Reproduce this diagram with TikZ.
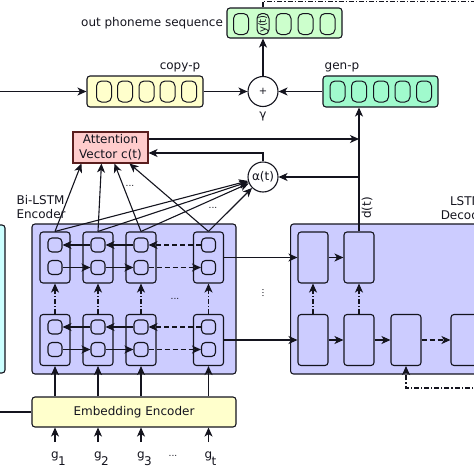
\documentclass[tikz,border=0pt]{standalone}
\usepackage{fontspec}
\setmainfont{DejaVu Sans}
\usetikzlibrary{arrows.meta,calc}
\definecolor{lav}{RGB}{204,204,255}
\definecolor{yel}{RGB}{255,255,204}
\definecolor{lgreen}{RGB}{204,255,204}
\definecolor{mint}{RGB}{160,250,205}
\definecolor{pinkc}{RGB}{255,204,204}
\definecolor{cyanc}{RGB}{204,255,255}
\definecolor{ink}{RGB}{20,20,30}
\definecolor{attborder}{RGB}{90,30,30}
\begin{document}
\begin{tikzpicture}[x=1pt,y=-1pt,color=ink,line width=1.1pt,
  font=\fontsize{12}{14}\selectfont,
  arr/.style={-{Stealth[length=9pt,width=8pt,inset=2.5pt]}},
  dashedl/.style={dash pattern=on 5pt off 3pt},
  dashdot/.style={dash pattern=on 5pt off 2pt on 1.2pt off 2pt},
  box/.style={draw=ink,line width=1.1pt,rounded corners=3pt,inner sep=0pt},
  cellbox/.style={box,fill=lav,minimum width=30pt,minimum height=51pt},
  smallbox/.style={box,fill=lav,minimum width=14pt,minimum height=14pt,rounded corners=4pt},
  seqcell/.style={draw=ink,line width=1pt,rounded corners=5pt,inner sep=0pt,minimum width=15pt,minimum height=21pt},
  circ/.style={draw=ink,line width=1.1pt,circle,fill=white,minimum size=30pt,inner sep=0pt},
  dots/.style={font=\fontsize{9}{10}\selectfont}]
\useasboundingbox (0,0) rectangle (474,474);
\clip (0,0) rectangle (474,474);

% ---------- big boxes ----------
\node[box,fill=cyanc,minimum width=20pt,minimum height=148pt] (cyanbox) at (-5,299) {};
\node[box,fill=lav,minimum width=204pt,minimum height=150pt] (enc) at (134,299) {};
\node[box,fill=lav,minimum width=200pt,minimum height=150pt,anchor=west] (dec) at (290,299) {};

% ---------- encoder cells ----------
\foreach \i/\x in {1/55,2/98,3/141,4/208.5} {
  \node[cellbox] (et\i) at (\x,257.5) {};
  \node[smallbox] (eta\i) at (\x,245) {};
  \node[smallbox] (etb\i) at (\x,267.5) {};
  \node[cellbox] (eb\i) at (\x,340) {};
  \node[smallbox] (eba\i) at (\x,327) {};
  \node[smallbox] (ebb\i) at (\x,349.5) {};
}
\foreach \r in {t,b} {
  \foreach \i/\j in {1/2,2/3} {
    \draw[arr] (e\r a\j.west) -- (e\r a\i.east);
    \draw[arr] (e\r b\i.east) -- (e\r b\j.west);
  }
  \draw[arr,dashedl] (e\r a4.west) -- (e\r a3.east);
  \draw[arr,dashedl] (e\r b3.east) -- (e\r b4.west);
}
\foreach \i in {1,...,4} \draw[arr,dashdot] (eb\i.north) -- (et\i.south);
\node[dots] (encdots) at (175,299) {...};

% ---------- embedding encoder ----------
\node[box,fill=yel,minimum width=204pt,minimum height=30pt] (emb) at (134,412) {Embedding Encoder};
\coordinate (embl) at (0,412);
\draw (embl) -- (emb.west);
\foreach \i in {1,...,4} \draw[arr] (emb.north -| eb\i) -- (eb\i.south);
\foreach \i/\x/\s in {1/55/1,2/98/2,3/141/3,4/208.5/t} {
  \coordinate (gt\i) at (\x,442);
  \draw[arr] (gt\i) -- (emb.south -| gt\i);
  \node[anchor=west,inner sep=0pt] (g\i) at (\x-4.5,459) {g\kern-0.5pt\raisebox{-7pt}{\s}};
}
\node[dots] (gdots) at (173,456) {...};

% ---------- decoder cells ----------
\node[cellbox] (dt1) at (313,257.5) {};
\node[cellbox] (dt2) at (359,257.5) {};
\node[cellbox] (db1) at (313,340) {};
\node[cellbox] (db2) at (359,340) {};
\node[cellbox] (db3) at (406,340) {};
\node[cellbox] (db4) at (466,340) {};
\draw[arr] (dt1.east) -- (dt2.west);
\draw[arr] (db1.east) -- (db2.west);
\draw[arr] (db2.east) -- (db3.west);
\draw[arr,dashedl] (db3.east) -- (db4.west);
\draw[arr,dashdot] (db1.north) -- (dt1.south);
\draw[arr,dashdot] (db2.north) -- (dt2.south);
\coordinate (fbr) at (480,388);
\draw[arr,dashdot] (fbr) -- (fbr -| db3) -- (db3.south);
\node[align=center] (decl) at (466,208) {LSTM\\Decoder};

% encoder -> decoder
\draw[arr] (et4.east) -- (dt1.west);
\draw[arr] (eb4.east) -- (db1.west);
\node[dots,rotate=90] (vdots) at (263,293) {...};

% ---------- labels ----------
\node[anchor=west,align=left,inner sep=0pt] (encl) at (16,207) {Bi-LSTM\\Encoder};

% ---------- attention ----------
\node[draw=attborder,line width=1.1pt,fill=pinkc,minimum width=75pt,minimum height=31pt,inner sep=0pt,align=center,font=\fontsize{12}{15}\selectfont] (att) at (110.5,147.5) {Attention\\Vector c(t)};
\node[circ] (alpha) at (263,177) {α(t)};
\foreach \i/\o in {1/9,2/29,3/42,4/57} \draw[arr] (et\i.north) -- ([xshift=\o pt]att.south west);
\foreach \i in {1,...,4} \draw[arr] (et\i.north) -- (alpha);
\node[dots] (adots1) at (130,186) {...};
\node[dots] (adots2) at (213,208) {...};

% ---------- top ----------
\node[box,fill=lgreen,minimum width=115pt,minimum height=30pt] (outs) at (284.5,23) {};
\foreach \x [count=\k] in {241,283.5,305.5,327.5} \node[seqcell] (oc\k) at (\x,24) {};
\node[seqcell,minimum width=12pt] (yt) at (263,24) {};
\node[rotate=90,inner sep=0pt,font=\fontsize{10}{12}\selectfont] (ytl) at (yt) {y(t)};
\node[anchor=east,inner sep=3pt] (outl) at (outs.west) {out phoneme sequence};
\coordinate (topr) at (480,1.5);
\draw[dashdot] (yt |- outs.north) -- (yt |- topr) -- (topr);

\node[box,fill=yel,minimum width=116pt,minimum height=31pt] (copyp) at (145,91.5) {};
\foreach \x [count=\k] in {104,125,146.5,167.5,189} \node[seqcell] (cc\k) at (\x,91.5) {};
\node (copyl) at (180,67) {copy-p};
\coordinate (copyin) at (0,91.5);
\draw[arr] (copyin) -- (copyp.west);

\node[box,fill=mint,minimum width=115pt,minimum height=31pt] (genp) at (380.5,91.5) {};
\foreach \x [count=\k] in {337.5,359,381,402.5,424} \node[seqcell] (gc\k) at (\x,91.5) {};
\node (genl) at (342,67) {gen-p};

\node[circ,font=\fontsize{10}{12}\selectfont] (plus) at (263,91.5) {+};
\node (gam) at (263,116) {γ};
\draw[arr] (copyp.east) -- (plus.west);
\draw[arr] (genp.west) -- (plus.east);
\draw[arr] (plus.north) -- (plus.north |- outs.south);

% decoder output d(t)
\draw[arr] (dt2.north) -- (dt2.north |- genp.south);
\node[rotate=90] (dtl) at (367,208) {d(t)};
\draw[arr] (dt2 |- alpha) -- (alpha.east);
\draw[arr] ($(att.east)+(0,-8.5)$) coordinate (ctst) -- (ctst -| dt2);
\draw[arr] (alpha.north) |- ($(att.east)+(0,5.5)$);
\end{tikzpicture}
\end{document}
